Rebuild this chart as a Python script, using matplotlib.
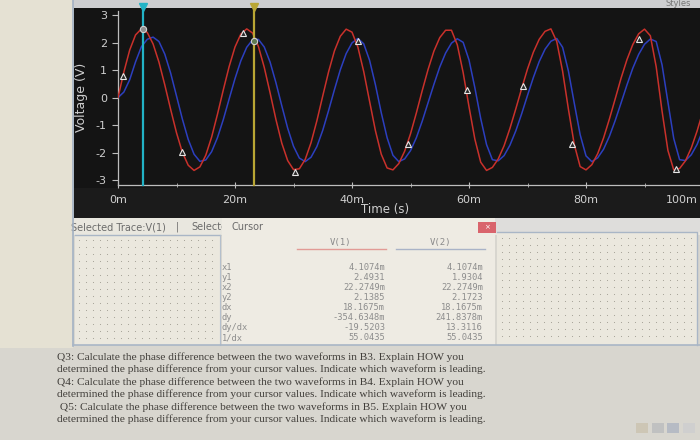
import matplotlib
matplotlib.use('Agg')
import matplotlib.pyplot as plt
import numpy as np
from matplotlib.patches import Rectangle
from matplotlib.transforms import ScaledTranslation

# ---------------- data ----------------
time_ms = list(range(0, 101))
v1 = [0.00, 0.93, 1.73, 2.28, 2.50, 2.37, 1.95, 1.29, 0.46, -0.43,
      -1.28, -1.99, -2.46, -2.65, -2.52, -2.10, -1.44, -0.61, 0.28, 1.13,
      1.84, 2.31, 2.50, 2.35, 1.86, 1.10, 0.17, -0.80, -1.66, -2.29,
      -2.62, -2.59, -2.25, -1.64, -0.84, 0.06, 0.94, 1.70, 2.23, 2.49,
      2.38, 1.84, 0.95, -0.13, -1.20, -2.06, -2.56, -2.63, -2.40, -1.95,
      -1.32, -0.56, 0.25, 1.02, 1.69, 2.18, 2.45, 2.45, 1.92, 0.91,
      -0.33, -1.51, -2.35, -2.65, -2.54, -2.23, -1.75, -1.12, -0.41, 0.33,
      1.04, 1.65, 2.12, 2.41, 2.50, 2.04, 0.96, -0.43, -1.71, -2.51,
      -2.63, -2.44, -2.04, -1.47, -0.78, -0.04, 0.71, 1.38, 1.93, 2.32,
      2.49, 2.25, 1.12, -0.49, -1.92, -2.63, -2.58, -2.30, -1.83, -1.21,
      -0.49]
v2 = [0.00, 0.20, 0.65, 1.30, 1.85, 2.12, 2.20, 2.04, 1.58, 0.89,
      0.06, -0.78, -1.52, -2.06, -2.32, -2.27, -1.97, -1.46, -0.80, -0.05,
      0.69, 1.34, 1.83, 2.10, 2.12, 1.84, 1.29, 0.54, -0.30, -1.11,
      -1.77, -2.20, -2.33, -2.17, -1.78, -1.19, -0.47, 0.29, 1.01, 1.60,
      1.99, 2.15, 1.96, 1.36, 0.47, -0.55, -1.46, -2.10, -2.33, -2.23,
      -1.93, -1.46, -0.86, -0.19, 0.48, 1.11, 1.62, 1.98, 2.14, 2.01,
      1.37, 0.36, -0.76, -1.71, -2.26, -2.30, -2.11, -1.73, -1.21, -0.59,
      0.08, 0.73, 1.31, 1.76, 2.05, 2.15, 1.83, 0.96, -0.21, -1.35,
      -2.12, -2.33, -2.19, -1.88, -1.41, -0.83, -0.19, 0.46, 1.07, 1.57,
      1.94, 2.13, 2.04, 1.19, -0.16, -1.49, -2.26, -2.29, -2.08, -1.70,
      -1.17]
marker_t_ms = [0.85, 10.9, 21.3, 30.2, 41.0, 49.5, 59.7, 69.3, 77.6, 89.1, 95.4]
marker_v = [0.78, -1.98, 2.35, -2.7, 2.05, -1.69, 0.27, 0.42, -1.69, 2.13, -2.6]
cursor_t_ms = [4.26, 23.2]
cursor_v = [2.5, 2.07]
x_ticks_ms = [0, 20, 40, 60, 80, 100]
x_tick_labels = ['0m', '20m', '40m', '60m', '80m', '100m']
y_ticks = [-3, -2, -1, 0, 1, 2, 3]
row_labels = ['x1', 'y1', 'x2', 'y2', 'dx', 'dy', 'dy/dx', '1/dx']
col_v1 = ['4.1074m', '2.4931', '22.2749m', '2.1385', '18.1675m', '-354.6348m', '-19.5203', '55.0435']
col_v2 = ['4.1074m', '1.9304', '22.2749m', '2.1723', '18.1675m', '241.8378m', '13.3116', '55.0435']
question_lines = [
    "Q3: Calculate the phase difference between the two waveforms in B3. Explain HOW you",
    "determined the phase difference from your cursor values. Indicate which waveform is leading.",
    "Q4: Calculate the phase difference between the two waveforms in B4. Explain HOW you",
    "determined the phase difference from your cursor values. Indicate which waveform is leading.",
    " Q5: Calculate the phase difference between the two waveforms in B5. Explain HOW you",
    "determined the phase difference from your cursor values. Indicate which waveform is leading.",
]

W, H = 700, 440
fig = plt.figure(figsize=(7, 4.4), dpi=100, facecolor='#d8d6cf')


def px_axes(x0, y0, x1, y1, **kw):
    return fig.add_axes([x0 / W, 1 - y1 / H, (x1 - x0) / W, (y1 - y0) / H], **kw)


# overlay in pixel coordinates
ov = fig.add_axes([0, 0, 1, 1])
ov.set_xlim(0, W)
ov.set_ylim(H, 0)
ov.axis('off')
ov.set_zorder(0)

def rect(x0, y0, x1, y1, color, z=1, **kw):
    ov.add_patch(Rectangle((x0, y0), x1 - x0, y1 - y0, facecolor=color,
                           edgecolor='none', zorder=z, **kw))

rect(0, 0, 73, 348, '#e5e1d3')
rect(73, 0, 700, 8, '#cdced0')
rect(74, 8, 700, 218, '#141414')
rect(74, 188, 700, 218, '#1b1b1b')
ov.plot([73, 73], [0, 346], color='#a3b2c4', lw=1.2, zorder=3)
ov.text(678, 4, 'Styles', fontsize=6, color='#777777', ha='center', va='center', zorder=3)

# tab bar and panels
rect(74, 218, 700, 235, '#e9e7df')
rect(75, 235, 220, 345, '#ebe8de')
ov.plot([75, 220], [235, 235], color='#a9b6c6', lw=1, zorder=3)
ov.plot([220, 220], [235, 345], color='#b4bfcc', lw=0.8, zorder=3)
ov.text(71, 227, 'Selected Trace:V(1)', fontsize=7, color='#6b6b6b', va='center', zorder=2)
ov.text(176, 227, '|', fontsize=7, color='#6b6b6b', va='center', zorder=2)
ov.text(191, 227, 'Selected', fontsize=7, color='#6b6b6b', va='center', zorder=2)
rect(222, 218, 495, 345, '#eeebe3', z=3)
ov.text(231, 227, 'Cursor', fontsize=7, color='#6b6b6b', va='center', zorder=4)
rect(495, 218, 700, 232, '#dedddb', z=3)
rect(497, 232, 697, 345, '#ebe8de', z=3)
ov.plot([497, 697, 697], [232, 232, 345], color='#a9b6c6', lw=1, zorder=4)
ov.plot([73, 700], [345, 345], color='#a9b6c6', lw=1.2, zorder=4)

gx, gy = np.meshgrid(np.arange(79, 218, 7), np.arange(240, 343, 7))
ov.scatter(gx.ravel(), gy.ravel(), s=0.6, color='#a09d92', zorder=2, lw=0)
gx, gy = np.meshgrid(np.arange(502, 695, 7), np.arange(238, 343, 7))
ov.scatter(gx.ravel(), gy.ravel(), s=0.6, color='#a09d92', zorder=4, lw=0)

# close button
rect(478, 222, 496, 233, '#d9646c', z=5)
ov.text(487, 227.5, '×', fontsize=5, color='white', ha='center', va='center', zorder=6)

# cursor table
mono = 'DejaVu Sans Mono'
ov.text(341, 243, 'V(1)', family=mono, fontsize=6.5, color='#8a8a8a', ha='center', va='center', zorder=5)
ov.text(440, 243, 'V(2)', family=mono, fontsize=6.5, color='#8a8a8a', ha='center', va='center', zorder=5)
ov.plot([297, 386], [249, 249], color='#e29b96', lw=1, zorder=5)
ov.plot([396, 485], [249, 249], color='#a9b3c7', lw=1, zorder=5)
for i, (lab, a, b) in enumerate(zip(row_labels, col_v1, col_v2)):
    y = 268 + 10 * i
    ov.text(222, y, lab, family=mono, fontsize=6.3, color='#8d8d8d', va='center', zorder=5)
    ov.text(385, y, a, family=mono, fontsize=6.3, color='#8d8d8d', ha='right', va='center', zorder=5)
    ov.text(483, y, b, family=mono, fontsize=6.3, color='#8d8d8d', ha='right', va='center', zorder=5)

# question text
for i, line in enumerate(question_lines):
    ov.text(57, 357 + 12.5 * i, line, family='Liberation Serif', fontsize=8.2,
            color='#403d39', va='center', zorder=5)

for x0, c in zip([636, 652, 667, 683], ['#cdc6b5', '#c0c1c1', '#b6bbc4', '#cfcfcf']):
    rect(x0, 423, x0 + 12, 433, c, z=5)

# axis labels (in pixel space)
ov.text(81, 97, 'Voltage (V)', rotation=90, fontsize=9, color='#cfcfcf',
        ha='center', va='center', zorder=5)
ov.text(385, 210, 'Time (s)', fontsize=8.5, color='#cfcfcf', ha='center', va='center', zorder=5)

# ---------------- plot axes ----------------
ax = px_axes(118, 11, 703, 185)
ax.set_zorder(2)
ax.set_facecolor('none')
ax.plot(time_ms, v1, color='#c9312b', lw=1.1, zorder=3)
ax.plot(time_ms, v2, color='#2c3fbf', lw=1.1, zorder=2)
ax.plot(marker_t_ms, marker_v, ls='none', marker='^', ms=4.5, mfc='#2a2a2a',
        mec='#e6e6e6', mew=0.8, zorder=6)

cur_colors = ['#22b3c6', '#b9a634']
for t, c in zip(cursor_t_ms, cur_colors):
    ax.plot([t, t], [-3.18, 3.3], color=c, lw=1.6, clip_on=False, zorder=4)
    ax.plot([t], [3.3], marker='v', ms=6, color=c, clip_on=False, zorder=5)
ax.plot([cursor_t_ms[0]], [cursor_v[0]], 'o', ms=4.5, mfc='#8e8e8e', mec='#d0d0d0', mew=0.8, zorder=7)
ax.plot([cursor_t_ms[1]], [cursor_v[1]], 'o', ms=4.5, mfc='#5f7a52', mec='#d0d0d0', mew=0.8, zorder=7)

ax.set_xlim(0, 100)
ax.set_ylim(-3.18, 3.15)
for s in ['top', 'right']:
    ax.spines[s].set_visible(False)
for s in ['left', 'bottom']:
    ax.spines[s].set_color('#bdbdbd')
    ax.spines[s].set_linewidth(0.9)
ax.set_xticks(x_ticks_ms)
ax.set_xticklabels(x_tick_labels)
ax.set_xticks(np.arange(10, 100, 20), minor=True)
ax.set_yticks(y_ticks)
ax.set_yticklabels([str(v) for v in y_ticks])
ax.tick_params(axis='both', colors='#bdbdbd', labelcolor='#cfcfcf', labelsize=8, length=4, width=0.8)
ax.tick_params(axis='x', which='major', direction='inout', length=4, pad=5)
ax.tick_params(axis='x', which='minor', direction='inout', length=3, colors='#bdbdbd')
ax.tick_params(axis='y', pad=4)

fig.canvas.draw()
last = ax.xaxis.get_major_ticks()[-1].label1
last.set_ha('right')
last.set_transform(last.get_transform() + ScaledTranslation(-0.05, 0, fig.dpi_scale_trans))

fig.savefig('out.png', dpi=100, facecolor=fig.get_facecolor())
